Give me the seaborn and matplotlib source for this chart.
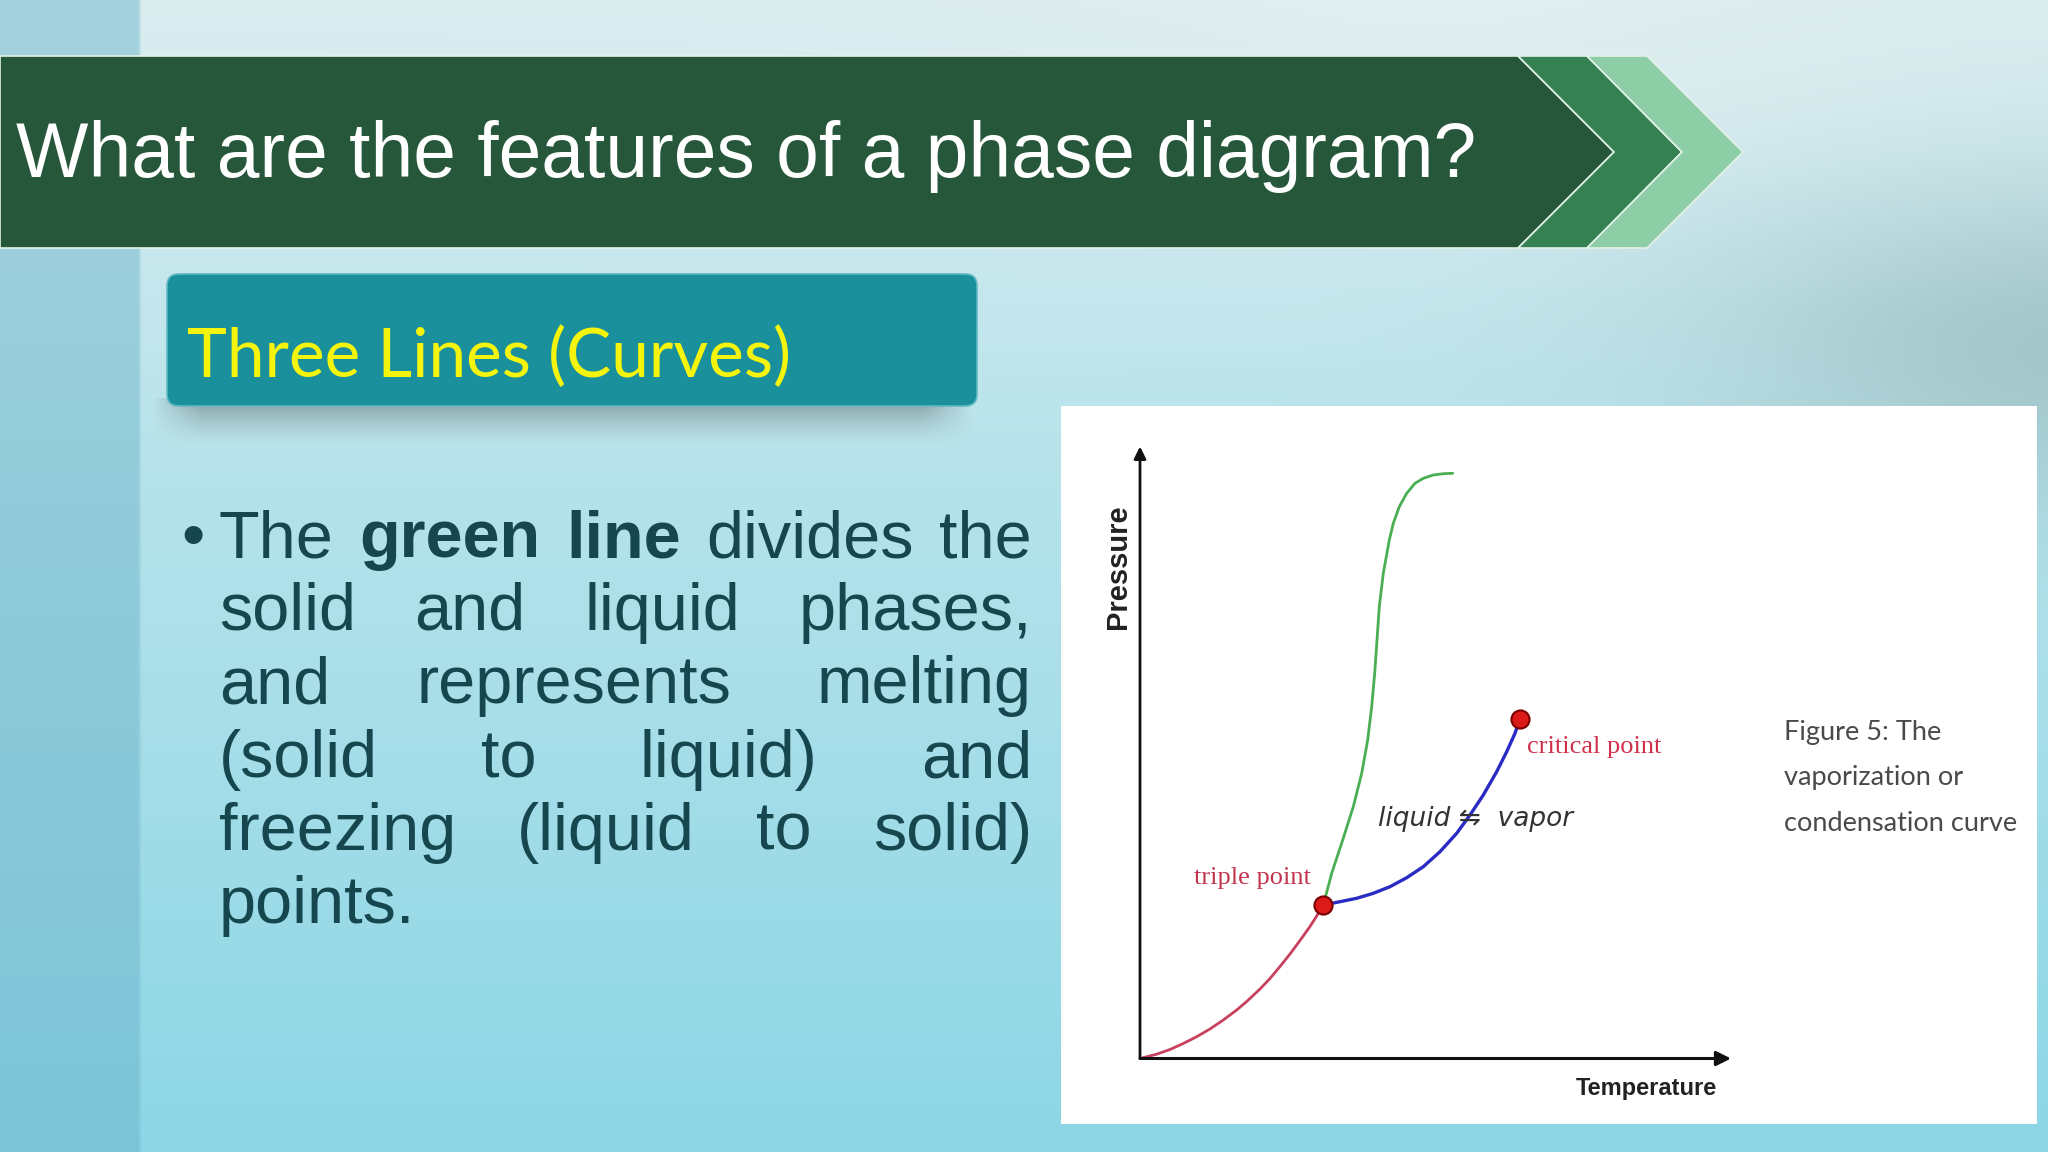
import numpy as np
import pandas as pd
import matplotlib
matplotlib.use("Agg")
import matplotlib.pyplot as plt
from matplotlib.patches import Polygon, FancyBboxPatch, Rectangle
import seaborn as sns

# ---------------- data ----------------
title_text = "What are the features of a phase diagram?"
subtitle_text = "Three Lines (Curves)"
caption_lines = ["Figure 5: The", "vaporization or", "condensation curve"]
body_lines = [
    [("The", "normal"), ("green", "bold"), ("line", "bold"), ("divides", "normal"), ("the", "normal")],
    [("solid", "normal"), ("and", "normal"), ("liquid", "normal"), ("phases,", "normal")],
    [("and", "normal"), ("represents", "normal"), ("melting", "normal")],
    [("(solid", "normal"), ("to", "normal"), ("liquid)", "normal"), ("and", "normal")],
    [("freezing", "normal"), ("(liquid", "normal"), ("to", "normal"), ("solid)", "normal")],
    [("points.", "normal")],
]

# solid-vapor (sublimation) curve  (temperature, pressure in arbitrary units)
red_T = [0, 16.7, 30, 43.3, 56.7, 70, 83.3, 96.7, 106.7, 120, 130, 140, 150, 160, 170, 178.3, 183.3]
red_P = [0, 4.3, 9, 15, 21.8, 29.5, 38.5, 48.5, 57, 69.5, 80, 92, 104.5, 118, 132, 145, 153.5]
# solid-liquid (melting) curve
green_T = [183.3, 191.7, 202.7, 213.3, 221.7, 227.7, 231.7, 234.7, 237, 239.3, 243.3,
           249.3, 253.3, 259.3, 266.7, 275, 283.3, 293.3, 303.3, 312.7]
green_P = [153.5, 185.2, 218.5, 251.8, 285.2, 318.5, 351.8, 385.2, 418.5, 451.8, 485.2,
           518.5, 535.2, 551.8, 565.2, 575.2, 580.2, 583.5, 584.8, 585.2]
# liquid-vapor (vaporization) curve
blue_T = [183.3, 200, 216.7, 233.3, 250, 266.7, 283.3, 300, 316.7, 330, 343.3, 356.7, 366.7, 375, 380]
blue_P = [153.5, 156.8, 160.2, 165.2, 171.8, 180.8, 191.8, 206.8, 225.2, 243.5, 263.5, 286.8, 306.8, 325.2, 340]
# special points
point_names = ["triple point", "critical point"]
point_T = [183.3, 380]
point_P = [153.5, 340]

x_label = "Temperature"
y_label = "Pressure"
equil_label = "liquid \u21cb  vapor"

# ---------------- figure ----------------
sns.set_theme(style="white")
plt.rcParams['font.family'] = ['Liberation Sans', 'DejaVu Sans']

W, H = 2048, 1152
fig = plt.figure(figsize=(W / 100, H / 100), dpi=100)

# overlay axes in pixel coordinates
ax_o = fig.add_axes([0, 0, 1, 1], zorder=0)
ax_o.set_xlim(0, W)
ax_o.set_ylim(H, 0)
ax_o.axis("off")

# background gradient
h, w = 288, 512
yy, xx = np.mgrid[0:h, 0:w]
fy = (yy / (h - 1))[..., None]
fx = (xx / (w - 1))[..., None]
c_top = np.array([0.86, 0.93, 0.94])
c_mid = np.array([0.72, 0.89, 0.92])
c_bot = np.array([0.55, 0.84, 0.90])
t1 = np.clip(fy / 0.4, 0, 1)
t2 = np.clip((fy - 0.4) / 0.6, 0, 1)
img = np.where(fy < 0.4, c_top * (1 - t1) + c_mid * t1, c_mid * (1 - t2) + c_bot * t2)
hl = np.exp(-(((fx - 0.7) / 0.25) ** 2 + ((fy - 0.05) / 0.12) ** 2))
img = img * (1 - 0.5 * hl) + np.array([0.90, 0.94, 0.94]) * 0.5 * hl
gs = np.exp(-(((fx - 1.02) / 0.18) ** 2 + ((fy - 0.30) / 0.14) ** 2))
img = img * (1 - 0.65 * gs) + np.array([0.58, 0.71, 0.72]) * 0.65 * gs
r_top = np.array([0.75, 0.886, 0.92])
r_bot = np.array([0.88, 0.915, 0.94])
ratio = r_top * (1 - fy) + r_bot * fy
strip = (fx < 140 / W)
img = np.where(strip, img * ratio, img)
ax_o.imshow(np.clip(img, 0, 1), extent=(0, W, H, 0), aspect="auto", zorder=0,
            interpolation="bilinear")

# title banner
top_y, bot_y, mid_y = 56, 248, 152
ax_o.add_patch(Polygon([(0, top_y), (1518, top_y), (1614, mid_y), (1518, bot_y), (0, bot_y)],
                       closed=True, fc="#26573a", ec="#e3f2ea", lw=1.2, zorder=2))
ax_o.add_patch(Polygon([(1518, top_y), (1587, top_y), (1682, mid_y), (1587, bot_y), (1518, bot_y), (1614, mid_y)],
                       closed=True, fc="#368154", ec="#e3f2ea", lw=1.2, zorder=2))
ax_o.add_patch(Polygon([(1587, top_y), (1647, top_y), (1743, mid_y), (1647, bot_y), (1587, bot_y), (1682, mid_y)],
                       closed=True, fc="#8dcea7", ec="#e3f2ea", lw=1.2, zorder=2))
ax_o.text(16, 177, title_text, color="white", fontsize=55.3, va="baseline", ha="left",
          family=["Liberation Sans", "DejaVu Sans"], zorder=3)

# subtitle box with shadow
sh = np.zeros((40, 200, 4))
sy = np.linspace(0, 1, 40)[:, None]
sx = np.linspace(0, 1, 200)[None, :]
edge = np.clip(np.minimum(sx, 1 - sx) / 0.06, 0, 1)
sh[..., 3] = 0.45 * (1 - sy) ** 1.5 * edge
sh[..., :3] = 0.25
ax_o.imshow(sh, extent=(150, 975, 448, 398), aspect="auto", zorder=2, interpolation="bilinear")
ax_o.add_patch(FancyBboxPatch((167, 274), 810, 132, boxstyle="round,pad=0,rounding_size=12",
                              fc="#1a909c", ec="#5fb8c2", lw=1.2, zorder=3))
ax_o.text(187, 377, subtitle_text, color="#f4f40c", fontsize=48.6, va="baseline", ha="left",
          family=["Lato", "DejaVu Sans"], zorder=4)

# body text, justified
fig.canvas.draw()
renderer = fig.canvas.get_renderer()
body_color = "#16474f"
body_size = 48
left_x, right_x = 219, 1032
baselines = [557, 630, 703, 777, 850, 923]
ax_o.text(181, baselines[0], "\u2022", color=body_color, fontsize=body_size, va="baseline",
          ha="left", family=["Liberation Sans", "DejaVu Sans"], zorder=3)
for li, (words, base) in enumerate(zip(body_lines, baselines)):
    arts = []
    for wtxt, wt in words:
        a = ax_o.text(0, base, wtxt, color=body_color, fontsize=body_size, fontweight=wt,
                      va="baseline", ha="left", family=["Liberation Sans", "DejaVu Sans"], zorder=3)
        arts.append(a)
    widths = [a.get_window_extent(renderer).width for a in arts]
    if li == len(body_lines) - 1 or len(arts) == 1:
        gap = 18
    else:
        gap = (right_x - left_x - sum(widths)) / (len(arts) - 1)
    x = left_x
    for a, wd in zip(arts, widths):
        a.set_x(x)
        x += wd + gap

# white figure panel
ax_o.add_patch(Rectangle((1061, 406), 976, 718, fc="white", ec="none", zorder=2))

# caption
cap_base = [740, 785.5, 831]
for txt, b in zip(caption_lines, cap_base):
    ax_o.text(1784, b, txt, color="#4a4a4a", fontsize=19.5, va="baseline",
              ha="left", family=["Lato", "DejaVu Sans"], zorder=3)

# ---------------- phase diagram ----------------
ax = fig.add_axes([1140 / W, (H - 1058.5) / H, 620 / W, 620 / H], zorder=5)
ax.set_facecolor("none")
ax.patch.set_alpha(0)
ax.set_xlim(0, 620)
ax.set_ylim(0, 620)

df_red = pd.DataFrame({"T": red_T, "P": red_P})
df_green = pd.DataFrame({"T": green_T, "P": green_P})
df_blue = pd.DataFrame({"T": blue_T, "P": blue_P})
sns.lineplot(data=df_red, x="T", y="P", ax=ax, color="#c8405e", lw=2.0, sort=False, estimator=None)
sns.lineplot(data=df_green, x="T", y="P", ax=ax, color="#4aae52", lw=2.0, sort=False, estimator=None)
sns.lineplot(data=df_blue, x="T", y="P", ax=ax, color="#2a2ac4", lw=2.4, sort=False, estimator=None)
df_pts = pd.DataFrame({"T": point_T, "P": point_P, "name": point_names})
sns.scatterplot(data=df_pts, x="T", y="P", ax=ax, color="#dc1a1a", edgecolor="#7a0000",
                linewidth=1.5, s=170, zorder=6, legend=False)

# axes arrows
ax.annotate("", xy=(591, 0), xytext=(0, 0),
            arrowprops=dict(arrowstyle="-|>", mutation_scale=22, lw=2.2, color="#111111",
                            shrinkA=0, shrinkB=0), annotation_clip=False)
ax.annotate("", xy=(0, 612), xytext=(0, 0),
            arrowprops=dict(arrowstyle="-|>", mutation_scale=18, lw=2.0, color="#111111",
                            shrinkA=0, shrinkB=0), annotation_clip=False)
for s in ax.spines.values():
    s.set_visible(False)
ax.set_xticks([])
ax.set_yticks([])
ax.set_xlabel("")
ax.set_ylabel("")

ax.text(-22, 492, y_label, rotation=90, fontsize=21, fontweight="bold", ha="center", va="center",
        color="#222222", family=["Liberation Sans", "DejaVu Sans"])
ax.text(506, -29.5, x_label, fontsize=17, fontweight="bold", ha="center", va="center",
        color="#222222", family=["Liberation Sans", "DejaVu Sans"])
ax.text(112, 174.5, point_names[0], fontsize=19, color="#c2354f", ha="center", va="baseline",
        family=["Liberation Serif", "DejaVu Serif"])
ax.text(454, 305, point_names[1], fontsize=19, color="#d0304c", ha="center", va="baseline",
        family=["Liberation Serif", "DejaVu Serif"])
ax.text(336, 232.5, equil_label, fontsize=19, color="#333333", ha="center", va="baseline",
        style="italic", family=["DejaVu Sans"])

fig.savefig("out.png", dpi=100)
